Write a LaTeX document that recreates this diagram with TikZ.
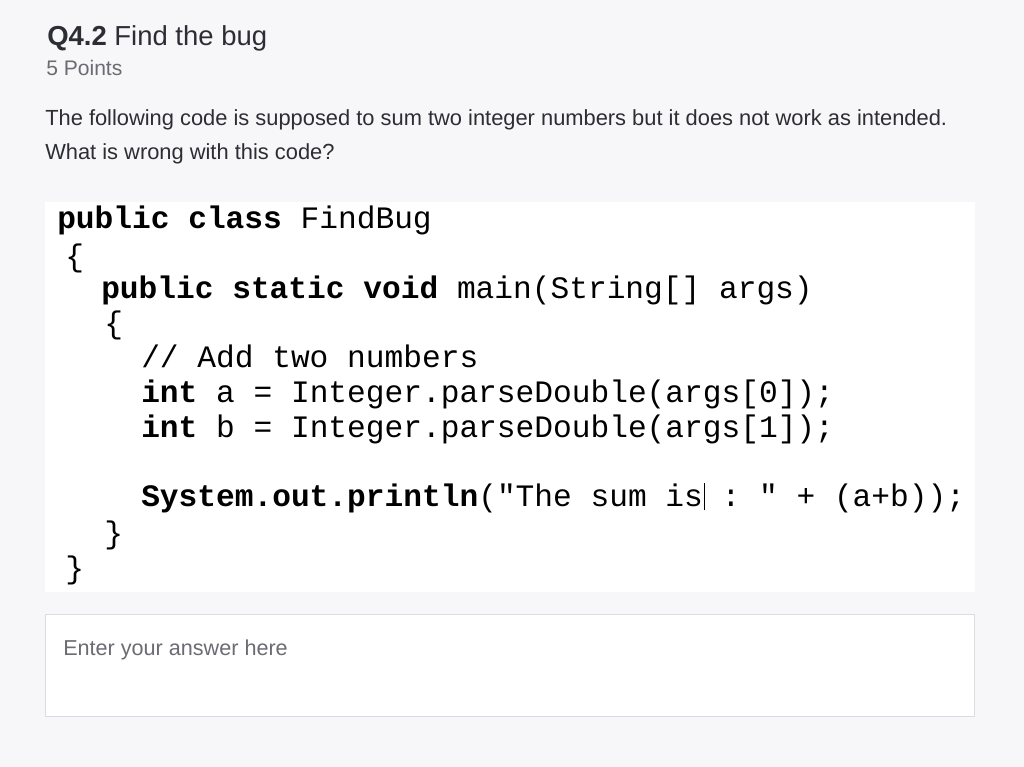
\documentclass[tikz,border=0pt]{standalone}
\usepackage{fontspec}
\setmainfont{Liberation Sans}
\setmonofont{Liberation Mono}
\definecolor{bg}{HTML}{F7F7F9}
\definecolor{txt}{HTML}{2D2D35}
\definecolor{gry}{HTML}{6B6B73}
\definecolor{bord}{HTML}{DCDCE0}
\begin{document}
\begin{tikzpicture}[x=0.75pt,y=-0.75pt,
  code/.style={anchor=base west,inner sep=0,font=\fontsize{23.4}{27}\ttfamily,text=black},
  body/.style={anchor=base west,inner sep=0,font=\fontsize{16.4}{18}\selectfont,text=txt}]
\fill[bg] (0,0) rectangle (1024,767);
\useasboundingbox (0,0) rectangle (1024,767);
\fill[white] (45,202) rectangle (975,592);
\draw[bord,fill=white] (45.5,614.5) rectangle (974.5,716.5);
\node[anchor=base west,inner sep=0,font=\fontsize{20.6}{24}\selectfont,text=txt] (title) at (47,46) {\textbf{Q4.2} Find the bug};
\node[anchor=base west,inner sep=0,font=\fontsize{15.8}{18}\selectfont,text=gry] (pts) at (46,75) {5 Points};
\node[body] (l1) at (45,125) {The following code is supposed to sum two integer numbers but it does not work as intended.};
\node[body] (l2) at (45,159) {What is wrong with this code?};
\node[code] (c1) at (57,228) {\textbf{public class} FindBug};
\node[code] (c2) at (65,266) {\{};
\node[code] (c3) at (101,298) {\textbf{public static void} main(String[] args)};
\node[code] (c4) at (104,333) {\{};
\node[code] (c5) at (141,367) {// Add two numbers};
\node[code] (c6) at (141,402) {\textbf{int} a = Integer.parseDouble(args[0]);};
\node[code] (c7) at (141,437) {\textbf{int} b = Integer.parseDouble(args[1]);};
\node[code] (c8) at (141,506) {\textbf{System.out.println}("The sum is\rlap{\hspace{1pt}\rule[-3pt]{0.6pt}{20pt}} : " + (a+b));};
\node[code] (c9) at (104,543) {\}};
\node[code] (c10) at (65,578) {\}};
\node[anchor=base west,inner sep=0,font=\fontsize{16.2}{19}\selectfont,text=gry] (ans) at (63,655) {Enter your answer here};
\end{tikzpicture}
\end{document}
